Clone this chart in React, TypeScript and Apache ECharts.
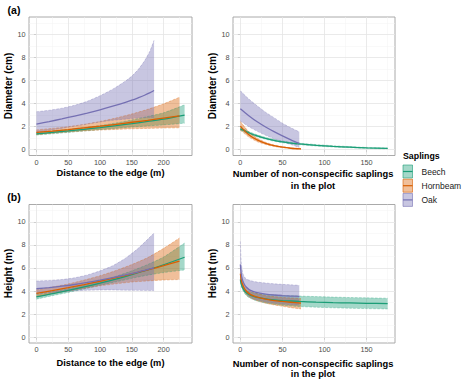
import React, { useEffect, useRef } from "react";
import * as echarts from "echarts";

// ---------- categories / styles ----------
const species = ["Beech", "Hornbeam", "Oak"];
const lineColors = ["#1b9e77", "#d95f02", "#7570b3"];
const fillColors = ["rgba(27,158,119,0.4)", "rgba(217,95,2,0.4)", "rgba(117,112,179,0.4)"];

// ---------- tick labels ----------
const distTicks = [0, 50, 100, 150, 200];
const distMinor = [25, 75, 125, 175, 225];
const numTicks = [0, 50, 100, 150];
const numMinor = [25, 75, 125, 175];
const yTicks = [0, 2, 4, 6, 8, 10];
const yMinor = [1, 3, 5, 7, 9, 11];

// ---------- (a) Diameter vs distance to the edge ----------
const dOakX = [0, 20, 40, 60, 80, 100, 120, 140, 150, 160, 170, 178, 185];
const dOakMean = [2.22, 2.44, 2.67, 2.92, 3.18, 3.46, 3.77, 4.1, 4.29, 4.5, 4.72, 4.92, 5.13];
const dOakHi = [3.29, 3.42, 3.6, 3.85, 4.2, 4.68, 5.25, 5.95, 6.38, 6.95, 7.7, 8.5, 9.48];
const dOakLo = [1.5, 1.68, 1.85, 2.05, 2.22, 2.4, 2.55, 2.65, 2.7, 2.74, 2.77, 2.79, 2.8];

const dHornX = [0, 25, 50, 75, 100, 125, 150, 175, 200, 225];
const dHornMean = [1.5, 1.62, 1.75, 1.9, 2.04, 2.2, 2.38, 2.55, 2.74, 2.93];
const dHornHi = [1.72, 1.85, 2.0, 2.2, 2.45, 2.75, 3.1, 3.5, 3.98, 4.55];
const dHornLo = [1.3, 1.42, 1.53, 1.63, 1.7, 1.76, 1.81, 1.85, 1.88, 1.9];

const dBeechX = [0, 25, 50, 75, 100, 125, 150, 175, 200, 233];
const dBeechMean = [1.38, 1.5, 1.63, 1.77, 1.92, 2.08, 2.26, 2.45, 2.65, 3.0];
const dBeechHi = [1.5, 1.62, 1.76, 1.92, 2.1, 2.32, 2.58, 2.88, 3.2, 3.89];
const dBeechLo = [1.27, 1.38, 1.5, 1.62, 1.74, 1.85, 1.96, 2.06, 2.15, 2.3];

// ---------- (a) Diameter vs number of non-conspecific saplings ----------
const nOakDX = [0, 10, 20, 30, 40, 50, 60, 70];
const nOakDMean = [3.55, 2.95, 2.42, 1.97, 1.57, 1.2, 0.86, 0.55];
const nOakDHi = [5.1, 4.4, 3.8, 3.25, 2.78, 2.3, 1.9, 1.55];
const nOakDLo = [2.5, 2.0, 1.6, 1.25, 0.95, 0.7, 0.45, 0.2];

const nHornDX = [0, 10, 20, 30, 40, 50, 60, 72];
const nHornDMean = [2.05, 1.3, 0.85, 0.55, 0.35, 0.22, 0.13, 0.07];
const nHornDHi = [2.45, 1.55, 1.0, 0.65, 0.42, 0.27, 0.17, 0.1];
const nHornDLo = [1.7, 1.1, 0.7, 0.45, 0.28, 0.17, 0.1, 0.04];

const nBeechDX = [0, 10, 20, 30, 40, 50, 60, 70, 90, 110, 130, 150, 175];
const nBeechDMean = [1.8, 1.47, 1.2, 0.99, 0.82, 0.68, 0.58, 0.5, 0.38, 0.29, 0.22, 0.16, 0.11];
const nBeechDHi = [1.92, 1.57, 1.29, 1.07, 0.9, 0.76, 0.65, 0.57, 0.45, 0.35, 0.27, 0.2, 0.14];
const nBeechDLo = [1.68, 1.37, 1.11, 0.91, 0.74, 0.61, 0.51, 0.44, 0.32, 0.24, 0.18, 0.12, 0.08];

// ---------- (b) Height vs distance to the edge ----------
const hOakX = [0, 20, 40, 60, 80, 100, 120, 140, 160, 185];
const hOakMean = [4.2, 4.3, 4.42, 4.57, 4.75, 4.95, 5.17, 5.4, 5.65, 6.0];
const hOakHi = [4.87, 4.92, 5.0, 5.15, 5.4, 5.75, 6.2, 6.85, 7.7, 9.03];
const hOakLo = [3.75, 3.85, 3.95, 4.02, 4.07, 4.1, 4.1, 4.08, 4.06, 4.04];

const hHornX = [0, 25, 50, 75, 100, 125, 150, 175, 200, 225];
const hHornMean = [3.8, 4.04, 4.29, 4.56, 4.85, 5.16, 5.49, 5.83, 6.2, 6.6];
const hHornHi = [4.1, 4.35, 4.62, 4.95, 5.33, 5.78, 6.3, 6.9, 7.7, 8.6];
const hHornLo = [3.5, 3.77, 4.0, 4.23, 4.45, 4.63, 4.78, 4.88, 4.95, 5.0];

const hBeechX = [0, 25, 50, 75, 100, 125, 150, 175, 200, 233];
const hBeechMean = [3.5, 3.77, 4.05, 4.36, 4.69, 5.04, 5.43, 5.84, 6.28, 6.93];
const hBeechHi = [3.7, 3.95, 4.22, 4.53, 4.88, 5.28, 5.75, 6.3, 6.95, 8.16];
const hBeechLo = [3.3, 3.6, 3.88, 4.18, 4.5, 4.8, 5.1, 5.38, 5.6, 5.83];

// ---------- (b) Height vs number of non-conspecific saplings ----------
const nOakHX = [0, 1, 2, 3, 5, 7, 10, 15, 20, 30, 40, 50, 60, 70];
const nOakHMean = [6.3, 5.5, 5.1, 4.85, 4.55, 4.35, 4.15, 3.98, 3.87, 3.74, 3.66, 3.61, 3.57, 3.54];
const nOakHHi = [8.3, 6.5, 5.9, 5.5, 5.2, 5.05, 4.95, 4.85, 4.78, 4.7, 4.63, 4.58, 4.54, 4.5];
const nOakHLo = [4.8, 4.65, 4.4, 4.25, 4.0, 3.8, 3.55, 3.35, 3.22, 3.05, 2.95, 2.88, 2.82, 2.78];

const nHornHX = [0, 1, 2, 3, 5, 7, 10, 15, 20, 30, 40, 50, 60, 72];
const nHornHMean = [5.5, 5.0, 4.7, 4.5, 4.2, 4.0, 3.8, 3.6, 3.47, 3.3, 3.18, 3.1, 3.03, 2.95];
const nHornHHi = [6.0, 5.4, 5.05, 4.85, 4.5, 4.3, 4.1, 3.9, 3.78, 3.62, 3.52, 3.45, 3.4, 3.35];
const nHornHLo = [5.0, 4.6, 4.35, 4.15, 3.9, 3.7, 3.5, 3.3, 3.15, 2.95, 2.8, 2.68, 2.56, 2.45];

const nBeechHX = [0, 1, 2, 3, 5, 7, 10, 15, 20, 30, 40, 50, 70, 90, 110, 130, 150, 175];
const nBeechHMean = [5.0, 4.65, 4.4, 4.25, 4.0, 3.85, 3.7, 3.55, 3.45, 3.32, 3.24, 3.18, 3.1, 3.04, 3.0, 2.97, 2.94, 2.91];
const nBeechHHi = [5.2, 4.85, 4.6, 4.45, 4.25, 4.1, 3.95, 3.85, 3.78, 3.7, 3.66, 3.62, 3.57, 3.52, 3.48, 3.44, 3.41, 3.38];
const nBeechHLo = [4.8, 4.45, 4.2, 4.05, 3.8, 3.62, 3.45, 3.27, 3.14, 2.96, 2.85, 2.77, 2.66, 2.6, 2.55, 2.51, 2.48, 2.45];

type Curve = { x: number[]; mean: number[]; lo: number[]; hi: number[] };
// per panel, in species order Beech, Hornbeam, Oak
const panels: Curve[][] = [
  [
    { x: dBeechX, mean: dBeechMean, lo: dBeechLo, hi: dBeechHi },
    { x: dHornX, mean: dHornMean, lo: dHornLo, hi: dHornHi },
    { x: dOakX, mean: dOakMean, lo: dOakLo, hi: dOakHi },
  ],
  [
    { x: nBeechDX, mean: nBeechDMean, lo: nBeechDLo, hi: nBeechDHi },
    { x: nHornDX, mean: nHornDMean, lo: nHornDLo, hi: nHornDHi },
    { x: nOakDX, mean: nOakDMean, lo: nOakDLo, hi: nOakDHi },
  ],
  [
    { x: hBeechX, mean: hBeechMean, lo: hBeechLo, hi: hBeechHi },
    { x: hHornX, mean: hHornMean, lo: hHornLo, hi: hHornHi },
    { x: hOakX, mean: hOakMean, lo: hOakLo, hi: hOakHi },
  ],
  [
    { x: nBeechHX, mean: nBeechHMean, lo: nBeechHLo, hi: nBeechHHi },
    { x: nHornHX, mean: nHornHMean, lo: nHornHLo, hi: nHornHHi },
    { x: nOakHX, mean: nOakHMean, lo: nOakHLo, hi: nOakHHi },
  ],
];

const FONT = "'Liberation Sans', Arial, Helvetica, sans-serif";

export default function App() {
  const ref = useRef<HTMLDivElement>(null);
  useEffect(() => {
    if (!ref.current) return;
    const chart = echarts.init(ref.current, undefined, { renderer: "svg" });

    const grids = [
      { left: 29, top: 17, width: 163, height: 138.5 },
      { left: 233, top: 17, width: 162, height: 138.5 },
      { left: 29, top: 204.5, width: 163, height: 138.5 },
      { left: 233, top: 204.5, width: 162, height: 138.5 },
    ].map((g) => ({
      ...g,
      show: true,
      backgroundColor: "#ffffff",
      borderColor: "#a0a0a0",
      borderWidth: 0.9,
      z: 0,
    }));

    const isDist = [true, false, true, false];
    const xAxes = grids.map((_, i) => ({
      gridIndex: i,
      type: "value",
      min: isDist[i] ? -11.65 : -8.75,
      max: isDist[i] ? 244.65 : 183.75,
      axisLine: { show: false },
      splitLine: { show: false },
      axisTick: {
        show: true,
        length: 2.5,
        lineStyle: { color: "#555", width: 0.8 },
        customValues: isDist[i] ? distTicks : numTicks,
      },
      axisLabel: {
        customValues: isDist[i] ? distTicks : numTicks,
        fontSize: 7.3,
        color: "#4d4d4d",
        margin: 3,
        fontFamily: FONT,
      },
    }));
    const yAxes = grids.map((_, i) => ({
      gridIndex: i,
      type: "value",
      min: -0.5,
      max: 11.5,
      axisLine: { show: false },
      splitLine: { show: false },
      axisTick: {
        show: true,
        length: 2.5,
        lineStyle: { color: "#555", width: 0.8 },
        customValues: yTicks,
      },
      axisLabel: {
        customValues: yTicks,
        fontSize: 7.3,
        color: "#4d4d4d",
        margin: 3.5,
        fontFamily: FONT,
      },
    }));

    const series: any[] = [];
    // gridlines
    grids.forEach((_, gi) => {
      const xs = isDist[gi] ? distTicks : numTicks;
      const xm = isDist[gi] ? distMinor : numMinor;
      const mk = (arr: number[], key: string, color: string, w: number) =>
        arr.map((v) => ({ [key]: v, lineStyle: { color, width: w, type: "solid" } }));
      series.push({
        type: "line",
        xAxisIndex: gi,
        yAxisIndex: gi,
        data: [],
        z: 1,
        silent: true,
        markLine: {
          silent: true,
          symbol: "none",
          z: 1,
          label: { show: false },
          emphasis: { disabled: true },
          animation: false,
          data: [
            ...mk(xm, "xAxis", "#f2f2f2", 0.5),
            ...mk(yMinor, "yAxis", "#f2f2f2", 0.5),
            ...mk(xs, "xAxis", "#e4e4e4", 0.8),
            ...mk(yTicks, "yAxis", "#e4e4e4", 0.8),
          ],
        },
      });
    });

    // bands (fill polygon)
    panels.forEach((curves, gi) => {
      curves.forEach((c, si) => {
        series.push({
          type: "custom",
          name: species[si],
          xAxisIndex: gi,
          yAxisIndex: gi,
          z: 2,
          silent: true,
          clip: true,
          data: c.x.map((v, k) => [v, c.lo[k], c.hi[k]]),
          encode: { x: 0, y: [1, 2] },
          renderItem: (params: any, api: any) => {
            if (params.dataIndex !== 0) return null;
            const top = c.x.map((v, k) => api.coord([v, c.hi[k]]));
            const bot = c.x.map((v, k) => api.coord([v, c.lo[k]]));
            const poly = top.concat(bot.slice().reverse());
            return {
              type: "polygon",
              shape: { points: poly },
              style: { fill: fillColors[si], stroke: "none", lineWidth: 0 },
            };
          },
        });
      });
    });

    // band edges (thin dashed)
    panels.forEach((curves, gi) => {
      curves.forEach((c, si) => {
        [c.hi, c.lo].forEach((arr) => {
          series.push({
            type: "line",
            xAxisIndex: gi,
            yAxisIndex: gi,
            z: 2,
            silent: true,
            showSymbol: false,
            symbol: "none",
            smooth: 0.3,
            data: c.x.map((v, k) => [v, arr[k]]),
            lineStyle: { color: lineColors[si], width: 0.5, opacity: 0.6, type: [2.5, 1.5] },
          });
        });
      });
    });

    // mean lines
    panels.forEach((curves, gi) => {
      curves.forEach((c, si) => {
        series.push({
          type: "line",
          name: species[si],
          xAxisIndex: gi,
          yAxisIndex: gi,
          z: 3,
          silent: true,
          showSymbol: false,
          symbol: "none",
          smooth: 0.3,
          data: c.x.map((v, k) => [v, c.mean[k]]),
          lineStyle: { color: lineColors[si], width: 1.3 },
        });
      });
    });

    const text = (x: number, y: number, t: string, size: number, opts: any = {}) => ({
      type: "text",
      x,
      y,
      rotation: opts.rotation || 0,
      style: {
        text: t,
        fontSize: size,
        fontWeight: opts.weight || "normal",
        fontFamily: FONT,
        fill: opts.color || "#000",
        textAlign: opts.align || "center",
        textVerticalAlign: "middle",
      },
      z: 10,
    });

    const graphics: any[] = [
      text(14, 10, "(a)", 10.5, { weight: "bold" }),
      text(14, 197, "(b)", 10.5, { weight: "bold" }),
      text(110.5, 172.7, "Distance to the edge (m)", 9.3, { weight: "bold" }),
      text(110.5, 362.7, "Distance to the edge (m)", 9.3, { weight: "bold" }),
      text(313, 174, "Number of non-conspecific saplings", 9.3, { weight: "bold" }),
      text(313, 185.5, "in the plot", 9.3, { weight: "bold" }),
      text(313, 363.5, "Number of non-conspecific saplings", 9.3, { weight: "bold" }),
      text(313, 374, "in the plot", 9.3, { weight: "bold" }),
      text(8.5, 86, "Diameter (cm)", 10, { weight: "bold", rotation: Math.PI / 2 }),
      text(212, 86, "Diameter (cm)", 10, { weight: "bold", rotation: Math.PI / 2 }),
      text(8.5, 273.5, "Height (m)", 10, { weight: "bold", rotation: Math.PI / 2 }),
      text(212, 273.5, "Height (m)", 10, { weight: "bold", rotation: Math.PI / 2 }),
      text(403, 156, "Saplings", 8.8, { weight: "bold", align: "left" }),
    ];
    species.forEach((s, si) => {
      const y0 = 165 + si * 14.2;
      graphics.push({
        type: "rect",
        shape: { x: 403, y: y0, width: 9.5, height: 13 },
        style: { fill: fillColors[si], stroke: lineColors[si], lineWidth: 0.6 },
        z: 10,
      });
      graphics.push({
        type: "line",
        shape: { x1: 403, y1: y0 + 6.5, x2: 412.5, y2: y0 + 6.5 },
        style: { stroke: lineColors[si], lineWidth: 1.2 },
        z: 11,
      });
      graphics.push(text(421.5, y0 + 6.8, s, 8.5, { align: "left", color: "#1a1a1a" }));
    });

    chart.setOption({
      animation: false,
      backgroundColor: "#ffffff",
      grid: grids,
      xAxis: xAxes,
      yAxis: yAxes,
      series,
      graphic: graphics,
    });
    return () => chart.dispose();
  }, []);
  return (
    <div
      ref={ref}
      style={{ position: "absolute", left: 0, top: 0, width: 474, height: 380 }}
    />
  );
}
